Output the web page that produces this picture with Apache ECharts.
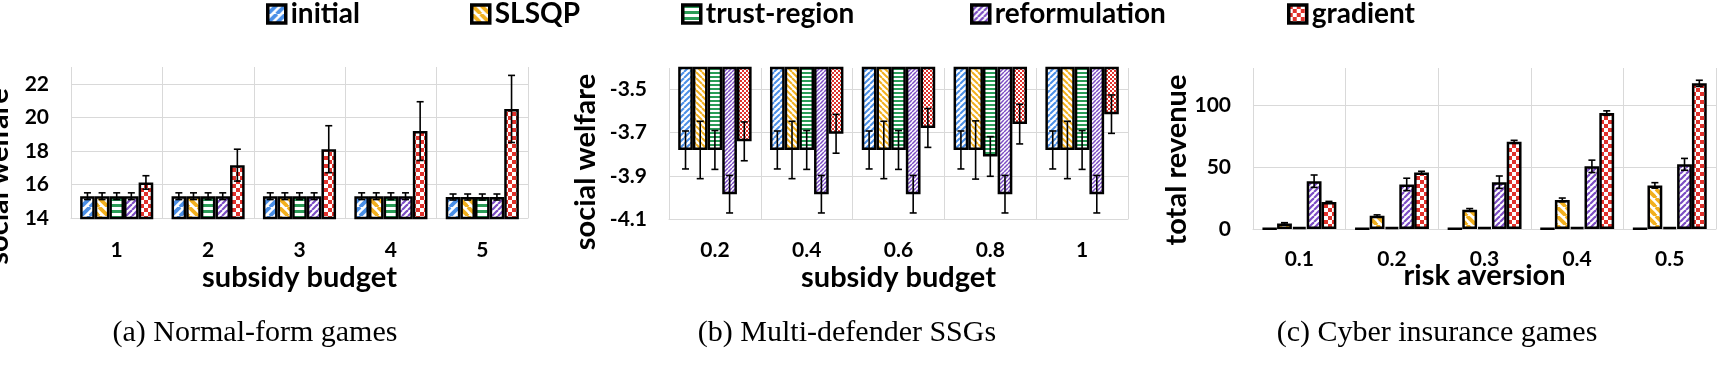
<!DOCTYPE html>
<html>
<head>
<meta charset="utf-8">
<script src="https://cdn.jsdelivr.net/npm/echarts@6.0.0/dist/echarts.min.js"></script>
<style>
  html, body { margin: 0; padding: 0; background: #fff; }
  #chart { width: 1723px; height: 386px; }
</style>
</head>
<body>
<div id="chart"></div>
<script>
// categories
const aCats = ['1', '2', '3', '4', '5']
const bCats = ['0.2', '0.4', '0.6', '0.8', '1']
const cCats = ['0.1', '0.2', '0.3', '0.4', '0.5']
const methods = ['initial', 'SLSQP', 'trust-region', 'reformulation', 'gradient']

// (a) normal-form games
const aInitial = [15.3, 15.3, 15.3, 15.3, 15.25]
const aSLSQP = [15.3, 15.3, 15.3, 15.3, 15.25]
const aTrust = [15.3, 15.3, 15.3, 15.3, 15.25]
const aReform = [15.3, 15.3, 15.3, 15.3, 15.25]
const aGradient = [16.12, 17.15, 18.1, 19.18, 20.5]
const aInitialErr = [0.2, 0.2, 0.2, 0.2, 0.18]
const aSLSQPErr = [0.2, 0.2, 0.2, 0.2, 0.18]
const aTrustErr = [0.2, 0.2, 0.2, 0.2, 0.18]
const aReformErr = [0.2, 0.2, 0.2, 0.2, 0.18]
const aGradientErr = [0.4, 0.95, 1.4, 1.75, 2.0]

// (b) multi-defender SSGs
const bInitial = [-3.78, -3.78, -3.78, -3.78, -3.78]
const bSLSQP = [-3.78, -3.78, -3.78, -3.78, -3.78]
const bTrust = [-3.78, -3.78, -3.78, -3.81, -3.78]
const bReform = [-3.985, -3.985, -3.985, -3.985, -3.985]
const bGradient = [-3.74, -3.705, -3.678, -3.66, -3.614]
const bInitialErr = [0.088, 0.088, 0.088, 0.088, 0.088]
const bSLSQPErr = [0.133, 0.133, 0.133, 0.135, 0.133]
const bTrustErr = [0.09, 0.09, 0.09, 0.092, 0.09]
const bReformErr = [0.087, 0.087, 0.087, 0.087, 0.087]
const bGradientErr = [0.09, 0.09, 0.09, 0.092, 0.089]

// (c) cyber insurance games
const cInitial = [0.3, 0.3, 0.3, 0.3, 0.3]
const cSLSQP = [4.5, 10.6, 15.5, 23.5, 35.2]
const cTrust = [1.5, 1.5, 1.5, 1.5, 1.5]
const cReform = [38.6, 36, 37.8, 50.6, 52.2]
const cGradient = [21.8, 45.6, 70.4, 93.6, 117.6]
const cInitialErr = [0, 0, 0, 0, 0]
const cSLSQPErr = [0.6, 0.8, 1.0, 1.5, 2.2]
const cTrustErr = [0, 0, 0, 0, 0]
const cReformErr = [5, 5, 5, 5, 4.8]
const cGradientErr = [0.5, 1, 1.2, 1.8, 2.5]

// y axis ticks
const aTicks = { min: 14, max: 23, interval: 2 }
const bTicks = { min: -4.1, max: -3.4, interval: 0.2 }
const cTicks = { min: 0, max: 130, interval: 50 }

const captions = ['(a) Normal-form games', '(b) Multi-defender SSGs', '(c) Cyber insurance games']

const GAP = 0.2
const GRID_COLOR = '#d9d9d9'
const FONT = 'Lato'

// --- fill patterns ---
function tile(n) {
  const c = document.createElement('canvas')
  c.width = n; c.height = n
  const ctx = c.getContext('2d')
  ctx.fillStyle = '#fff'
  ctx.fillRect(0, 0, n, n)
  return [c, ctx]
}
function diag(color, n, w, back) {
  const [c, ctx] = tile(n)
  ctx.strokeStyle = color
  ctx.lineWidth = w
  for (const x0 of [-n, 0, n]) {
    ctx.beginPath()
    if (back) { ctx.moveTo(x0, 0); ctx.lineTo(x0 + n, n) }
    else { ctx.moveTo(x0, n); ctx.lineTo(x0 + n, 0) }
    ctx.stroke()
  }
  return { image: c, repeat: 'repeat' }
}
function horiz(color, n, w) {
  const [c, ctx] = tile(n)
  ctx.fillStyle = color
  ctx.fillRect(0, 0, n, w)
  return { image: c, repeat: 'repeat' }
}
function checker(color, s) {
  const [c, ctx] = tile(s * 2)
  ctx.fillStyle = color
  ctx.fillRect(0, 0, s, s)
  ctx.fillRect(s, s, s, s)
  return { image: c, repeat: 'repeat' }
}
const coarse = [
  diag('#4a8fe7', 9, 3.8, false),
  diag('#f2b01e', 9, 3.8, true),
  horiz('#2a9d57', 6, 3),
  diag('#7c4dc4', 6, 2.2, false),
  checker('#e0322c', 4)
]
const fine = [
  diag('#4a8fe7', 6, 2, false),
  diag('#f2b01e', 6, 2, true),
  horiz('#2a9d57', 4, 2),
  diag('#7c4dc4', 4, 1.5, false),
  checker('#e0322c', 2)
]

const chartDefs = [
  { cats: aCats, vals: [aInitial, aSLSQP, aTrust, aReform, aGradient],
    errs: [aInitialErr, aSLSQPErr, aTrustErr, aReformErr, aGradientErr],
    ticks: aTicks, fills: coarse, xName: 'subsidy budget', yName: 'social welfare',
    grid: { left: 71, width: 457, top: 67, height: 151 }, xMargin: 22, xGap: 45, yGap: 58, yShift: 68 },
  { cats: bCats, vals: [bInitial, bSLSQP, bTrust, bReform, bGradient],
    errs: [bInitialErr, bSLSQPErr, bTrustErr, bReformErr, bGradientErr],
    ticks: bTicks, fills: fine, xName: 'subsidy budget', yName: 'social welfare',
    grid: { left: 669, width: 459, top: 68, height: 151 }, xMargin: 21, xGap: 44, yGap: 69, yShift: 37 },
  { cats: cCats, vals: [cInitial, cSLSQP, cTrust, cReform, cGradient],
    errs: [cInitialErr, cSLSQPErr, cTrustErr, cReformErr, cGradientErr],
    ticks: cTicks, fills: coarse, xName: 'risk aversion', yName: 'total revenue',
    grid: { left: 1253, width: 463, top: 68, height: 161 }, xMargin: 20, xGap: 32, yGap: 62, yShift: 23 }
]

const grids = [], xAxes = [], yAxes = [], series = []

chartDefs.forEach((d, gi) => {
  grids.push(Object.assign({ outerBoundsMode: 'none', containLabel: false }, d.grid))
  xAxes.push({
    type: 'category', gridIndex: gi, data: d.cats,
    axisTick: { show: false },
    axisLine: { onZero: false, lineStyle: { color: GRID_COLOR, width: 1 } },
    splitLine: { show: true, lineStyle: { color: GRID_COLOR, width: 1 } },
    axisLabel: { color: '#000', fontFamily: FONT, fontWeight: 'bold', fontSize: 21, margin: d.xMargin },
    name: d.xName, nameLocation: 'middle', nameGap: d.xGap, nameMoveOverlap: false,
    nameTextStyle: { color: '#000', fontFamily: FONT, fontWeight: 'bold', fontSize: 29 }
  })
  yAxes.push({
    type: 'value', gridIndex: gi,
    min: d.ticks.min, max: d.ticks.max, interval: d.ticks.interval,
    axisLine: { show: false }, axisTick: { show: false },
    splitLine: { show: true, showMaxLine: false, lineStyle: { color: GRID_COLOR, width: 1 } },
    axisLabel: {
      color: '#000', fontFamily: FONT, fontWeight: 'bold', fontSize: 21, margin: 22,
      showMaxLabel: false,
      formatter: v => gi === 1 ? v.toFixed(1) : String(Math.round(v))
    },
    name: d.yName, nameLocation: 'middle', nameGap: d.yGap, nameRotate: 90, nameMoveOverlap: false,
    nameTextStyle: { color: '#000', fontFamily: FONT, fontWeight: 'bold', fontSize: 29,
      padding: [0, d.yShift, 0, 0] }
  })
  methods.forEach((m, mi) => {
    series.push({
      name: m, type: 'bar', xAxisIndex: gi, yAxisIndex: gi,
      data: d.vals[mi], barGap: '0%', barCategoryGap: (GAP * 100) + '%',
      itemStyle: { color: d.fills[mi], borderColor: '#000', borderWidth: 2.5 },
      emphasis: { disabled: true }, animation: false
    })
  })
  // error bars
  const rows = []
  d.vals.forEach((arr, mi) => arr.forEach((v, ci) => rows.push([ci, mi, v, d.errs[mi][ci]])))
  series.push({
    type: 'custom', xAxisIndex: gi, yAxisIndex: gi, z: 5, animation: false,
    encode: { x: 0, y: 2 }, data: rows, silent: true,
    renderItem: (params, api) => {
      const ci = api.value(0), mi = api.value(1), v = api.value(2), e = api.value(3)
      if (!e) return
      const band = api.size([1, 0])[0]
      const bw = band * (1 - GAP) / 5
      const x = api.coord([ci, v])[0] + (mi - 2) * bw
      const y1 = api.coord([ci, v + e])[1]
      const y2 = api.coord([ci, v - e])[1]
      const st = { stroke: '#000', lineWidth: 1.6 }
      return {
        type: 'group', children: [
          { type: 'line', shape: { x1: x, y1: y1, x2: x, y2: y2 }, style: st },
          { type: 'line', shape: { x1: x - 3.5, y1: y1, x2: x + 3.5, y2: y1 }, style: st },
          { type: 'line', shape: { x1: x - 3.5, y1: y2, x2: x + 3.5, y2: y2 }, style: st }
        ]
      }
    }
  })
})

const legendLeft = [266, 470, 681, 970, 1287]
const legends = methods.map((m, i) => ({
  data: [m], left: legendLeft[i], top: 0, padding: 0,
  icon: 'rect', itemWidth: 18, itemHeight: 18, itemGap: 8,
  itemStyle: { borderColor: '#000', borderWidth: 3.5 },
  textStyle: { color: '#000', fontFamily: FONT, fontWeight: 'bold', fontSize: 28 },
  selectedMode: false
}))

const captionX = [255, 847, 1437]
const graphics = captions.map((t, i) => ({
  type: 'text', x: captionX[i], y: 333, silent: true,
  style: { text: t, fill: '#000', fontFamily: 'Liberation Serif', fontSize: 30,
    textAlign: 'center', textVerticalAlign: 'middle' }
}))

const chart = echarts.init(document.getElementById('chart'), null, { renderer: 'canvas' })
chart.setOption({
  backgroundColor: '#fff',
  animation: false,
  legend: legends,
  grid: grids,
  xAxis: xAxes,
  yAxis: yAxes,
  series: series,
  graphic: graphics
})
</script>
</body>
</html>
